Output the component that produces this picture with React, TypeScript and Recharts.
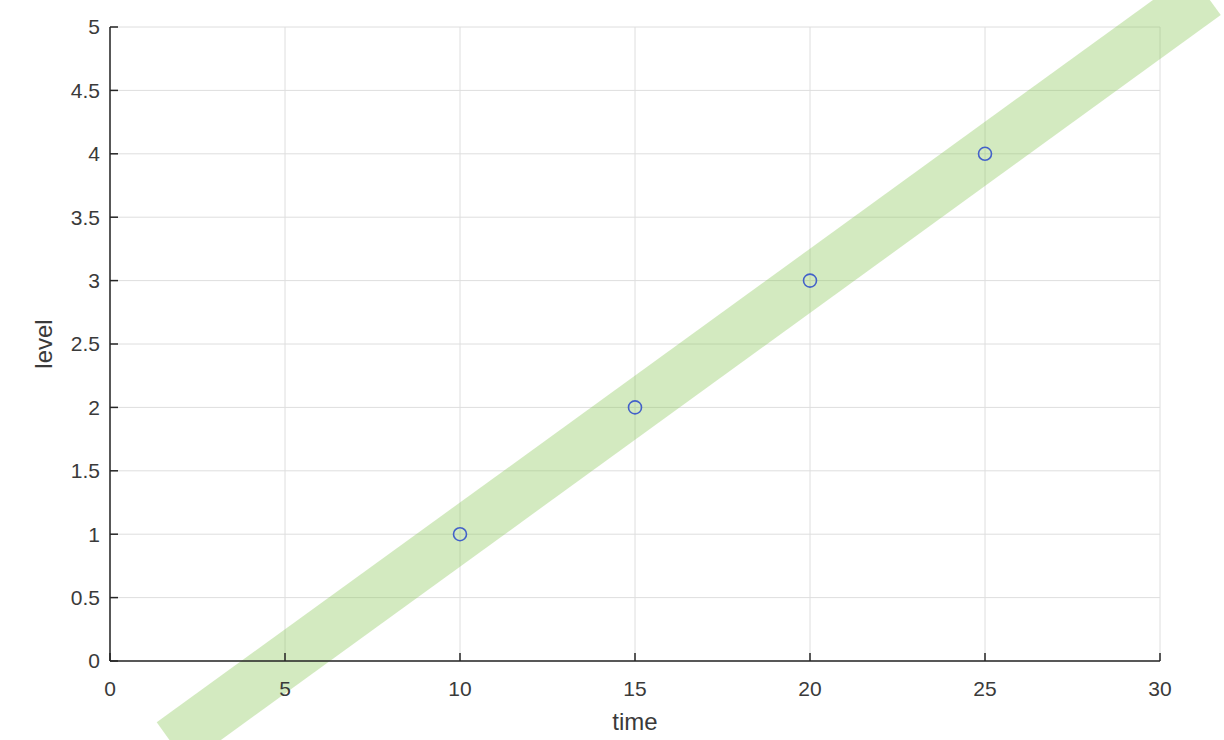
import React from 'react'
import { ScatterChart, Scatter, XAxis, YAxis, CartesianGrid, ReferenceLine } from 'recharts'

const times = [10, 15, 20, 25]
const levels = [1, 2, 3, 4]
const timeTicks = [0, 5, 10, 15, 20, 25, 30]
const levelTicks = [0, 0.5, 1, 1.5, 2, 2.5, 3, 3.5, 4, 4.5, 5]
// ends of the shaded fit band (it runs past the axes on both sides)
const bandTimes = [1.77, 31.3]
const bandLevels = [-0.65, 5.26]

const points = times.map((t, i) => ({ time: t, level: levels[i] }))
const band = bandTimes.map((t, i) => ({ x: t, y: bandLevels[i] }))

const ink = '#262626'
const textInk = '#3a3a3a'
const font = '"Liberation Sans", Arial, sans-serif'

const Ring = (p: any) => (
  <circle cx={p.cx} cy={p.cy} r={6.5} fill="none" stroke="#4361c9" strokeWidth={1.6} />
)

export default function App() {
  return (
    <div style={{ position: 'absolute', left: 0, top: 0, fontFamily: font }}>
      <ScatterChart
        width={1224}
        height={740}
        margin={{ top: 27, right: 64, left: 50, bottom: 4 }}
      >
        <CartesianGrid stroke="#dedede" strokeWidth={1} />
        <XAxis
          type="number"
          dataKey="time"
          domain={[0, 30]}
          ticks={timeTicks}
          height={75}
          tickSize={-8}
          tickMargin={28}
          axisLine={{ stroke: ink, strokeWidth: 1.5 }}
          tickLine={{ stroke: ink, strokeWidth: 1.5 }}
          tick={{ fill: textInk, fontSize: 21, fontFamily: font }}
          label={{ value: 'time', position: 'insideBottom', offset: 6, fill: textInk, fontSize: 24, fontFamily: font }}
        />
        <YAxis
          type="number"
          dataKey="level"
          domain={[0, 5]}
          ticks={levelTicks}
          width={60}
          tickSize={-8}
          tickMargin={18}
          axisLine={{ stroke: ink, strokeWidth: 1.5 }}
          tickLine={{ stroke: ink, strokeWidth: 1.5 }}
          tick={{ fill: textInk, fontSize: 21, fontFamily: font }}
          label={{
            value: 'level',
            angle: -90,
            position: 'insideLeft',
            offset: -7,
            fill: textInk,
            fontSize: 24,
            fontFamily: font,
            style: { textAnchor: 'middle' },
          }}
        />
        <ReferenceLine
          segment={band}
          ifOverflow="visible"
          stroke="#8cc85a"
          strokeOpacity={0.38}
          strokeWidth={52}
        />
        <Scatter data={points} shape={Ring} isAnimationActive={false} />
      </ScatterChart>
    </div>
  )
}
